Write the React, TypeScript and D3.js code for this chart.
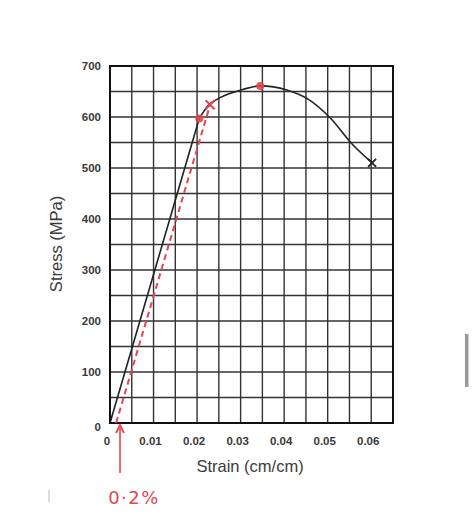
import React from 'react';
import * as d3 from 'd3';

// elastic region (straight), then plastic region up to fracture
const elasticStrain = [0, 0.0205];
const elasticStress = [0, 597];
const plasticStrain = [0.0205, 0.0225, 0.0253, 0.0305, 0.0345, 0.0406, 0.0455, 0.0506, 0.0556, 0.0602];
const plasticStress = [597, 622, 638, 654, 661, 653, 635, 598, 547, 510];

// 0.2% offset construction (red)
const offsetStart = 0.0014;
const offsetEnd = { strain: 0.023, stress: 624 };
const redDots = [
  { strain: 0.0205, stress: 597 },
  { strain: 0.0345, stress: 661 },
];
const arrowStrain = 0.0023;

const xTicks = [0, 0.01, 0.02, 0.03, 0.04, 0.05, 0.06];
const xTickLabels = ['0', '0.01', '0.02', '0.03', '0.04', '0.05', '0.06'];
const yTicks = [0, 100, 200, 300, 400, 500, 600, 700];

const W = 474;
const H = 520;
const RED = '#e5454d';

const App: React.FC = () => {
  const x = d3.scaleLinear().domain([0, 0.065]).range([110, 393]);
  const y = d3.scaleLinear().domain([0, 700]).range([423, 66]);

  const vGrid = d3.range(0, 0.0651, 0.005);
  const hGrid = d3.range(0, 701, 50);

  const straight = d3.line<[number, number]>()
    .x(d => x(d[0]))
    .y(d => y(d[1]));
  const smooth = d3.line<[number, number]>()
    .x(d => x(d[0]))
    .y(d => y(d[1]))
    .curve(d3.curveMonotoneX);

  const elastic = elasticStrain.map((s, i) => [s, elasticStress[i]] as [number, number]);
  const plastic = plasticStrain.map((s, i) => [s, plasticStress[i]] as [number, number]);
  const fracture = plastic[plastic.length - 1];

  const cross = (cx: number, cy: number, r: number) =>
    `M${cx - r},${cy - r}L${cx + r},${cy + r}M${cx - r},${cy + r}L${cx + r},${cy - r}`;

  const ax = x(arrowStrain);

  return (
    <svg width={W} height={H} style={{ position: 'absolute', left: 0, top: 0, background: '#fff' }}
      fontFamily="Liberation Sans, Arial, sans-serif">
      {/* grid */}
      <g stroke="#333" strokeWidth={1.4}>
        {vGrid.map(v => (
          <line key={'v' + v} x1={x(v)} x2={x(v)} y1={y(0)} y2={y(700)} />
        ))}
        {hGrid.map(v => (
          <line key={'h' + v} x1={x(0)} x2={x(0.065)} y1={y(v)} y2={y(v)} />
        ))}
      </g>
      <rect x={x(0)} y={y(700)} width={x(0.065) - x(0)} height={y(0) - y(700)}
        fill="none" stroke="#111" strokeWidth={2} />

      {/* tick labels */}
      <g fill="#3a3a3a" fontSize={11.5} fontWeight={600}>
        {yTicks.map(v => (
          <text key={'yt' + v} x={x(0) - 9} y={y(v) + (v === 0 ? 8 : 4)} textAnchor="end">{v}</text>
        ))}
        {xTicks.map((v, i) => (
          <text key={'xt' + v} x={x(v) - 3} y={y(0) + 22} textAnchor="middle">{xTickLabels[i]}</text>
        ))}
      </g>
      <text x={250} y={472} textAnchor="middle" fontSize={16.5} fill="#3a3a3a">Strain (cm/cm)</text>
      <text transform={`translate(62,${244}) rotate(-90)`} textAnchor="middle" fontSize={16.5} fill="#3a3a3a">Stress (MPa)</text>

      {/* curve */}
      <path d={straight(elastic) ?? ''} fill="none" stroke="#222" strokeWidth={1.6} />
      <path d={smooth(plastic) ?? ''} fill="none" stroke="#222" strokeWidth={1.6} />
      <path d={cross(x(fracture[0]), y(fracture[1]), 4)} stroke="#222" strokeWidth={1.8} />

      {/* offset line */}
      <line x1={x(offsetStart)} y1={y(0)} x2={x(offsetEnd.strain)} y2={y(offsetEnd.stress)}
        stroke={RED} strokeWidth={2} strokeDasharray="6,4" />
      <path d={cross(x(offsetEnd.strain), y(offsetEnd.stress), 4.5)} stroke={RED} strokeWidth={2} />
      {redDots.map((d, i) => (
        <circle key={'rd' + i} cx={x(d.strain)} cy={y(d.stress)} r={4} fill={RED} opacity={0.9} />
      ))}

      {/* arrow + annotation */}
      <line x1={ax} x2={ax} y1={473} y2={428} stroke={RED} strokeWidth={1.6} />
      <path d={`M${ax - 4},${433}L${ax},${425}L${ax + 4},${433}`} fill="none" stroke={RED} strokeWidth={1.8} />
      <text x={134} y={504} textAnchor="middle" fontSize={18} fill={RED} letterSpacing={1.5}
        fontFamily="DejaVu Sans, sans-serif">0·2%</text>

      {/* scan artefacts */}
      <line x1={49} x2={49} y1={490} y2={502} stroke="#bbb" strokeWidth={1} />
      <rect x={465} y={334} width={3.5} height={53} fill="#999" />
    </svg>
  );
};

export default App;
